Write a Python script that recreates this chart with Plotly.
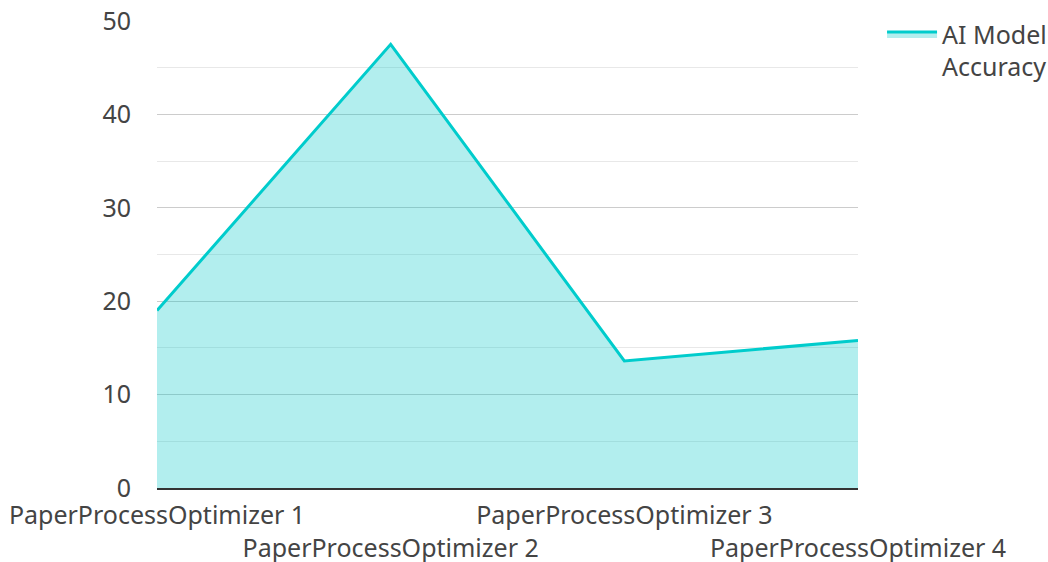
import plotly.graph_objects as go

categories = ["PaperProcessOptimizer 1", "PaperProcessOptimizer 2",
              "PaperProcessOptimizer 3", "PaperProcessOptimizer 4"]
accuracy = [19.0, 47.5, 13.6, 15.8]
series_name = "AI Model<br>Accuracy"
y_ticks = [0, 10, 20, 30, 40, 50]

tick_text = [c if i % 2 == 0 else "<br>" + c for i, c in enumerate(categories)]

fig = go.Figure()
fig.add_trace(go.Scatter(
    x=categories, y=accuracy, mode="lines", name=series_name,
    fill="tozeroy", fillcolor="rgba(0,200,200,0.3)",
    line=dict(color="#00CCCC", width=3),
))

fig.update_layout(
    width=1048, height=562,
    margin=dict(l=157, r=190, t=21, b=74, autoexpand=False),
    paper_bgcolor="white", plot_bgcolor="white",
    font=dict(family="Noto Sans", size=25, color="#444444"),
    showlegend=True,
    legend=dict(x=1.0343, y=1.021, xanchor="left", yanchor="top", valign="top",
                itemwidth=50, borderwidth=0,
                font=dict(size=25, color="#444444")),
    xaxis=dict(
        range=[0, 3], tickmode="array", tickvals=categories, ticktext=tick_text,
        showgrid=False, showline=True, linecolor="#333333", linewidth=2,
        ticks="", tickangle=0, automargin=False, ticklabelstandoff=4,
        ticklabeloverflow="allow",
    ),
    yaxis=dict(
        range=[0, 50], tickvals=y_ticks, showgrid=True, gridcolor="#cccccc",
        gridwidth=1, zeroline=False, ticks="", ticklabelstandoff=25,
        automargin=False, ticklabeloverflow="allow",
        minor=dict(dtick=5, showgrid=True, gridcolor="#e8e8e8", gridwidth=1),
    ),
)

fig.write_html("out.html",
               config={"displayModeBar": False},
               post_script="document.body.style.margin='0';document.body.style.overflow='hidden';")
